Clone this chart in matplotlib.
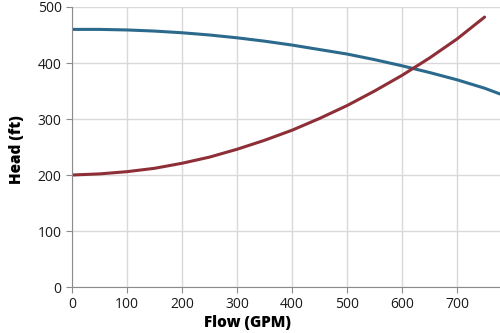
import matplotlib
matplotlib.use("Agg")
import matplotlib.pyplot as plt

flow = [0, 50, 100, 150, 200, 250, 300, 350, 400, 450, 500, 550, 600, 650, 700, 750, 780]
pump_head = [460, 460, 459, 457, 454, 450, 445, 439, 432, 424, 416, 406, 395, 383, 370, 355, 344]
sys_flow = [0, 50, 100, 150, 200, 250, 300, 350, 400, 450, 500, 550, 600, 650, 700, 750]
sys_head = [200, 202, 206, 212, 221, 232, 246, 262, 280, 301, 324, 350, 378, 409, 443, 482]
xticks = [0, 100, 200, 300, 400, 500, 600, 700]
yticks = [0, 100, 200, 300, 400, 500]

plt.rcParams['font.family'] = ['Open Sans', 'DejaVu Sans']
fig = plt.figure(figsize=(5, 3.33), dpi=100)
ax = fig.add_axes([0.144, 0.138, 0.856, 0.841])
ax.plot(flow, pump_head, color='#2b6a8c', lw=2.2, solid_capstyle='round')
ax.plot(sys_flow, sys_head, color='#8e2f37', lw=2.2, solid_capstyle='round')
ax.set_xlim(0, 778)
ax.set_ylim(0, 500)
ax.set_xticks(xticks)
ax.set_yticks(yticks)
ax.grid(True, color='#d9d9d9', lw=1)
ax.set_axisbelow(True)
for s in ['top', 'right']:
    ax.spines[s].set_visible(False)
for s in ['left', 'bottom']:
    ax.spines[s].set_color('#8c8c8c')
ax.tick_params(colors='#8c8c8c', labelcolor='#1a1a1a', labelsize=10, length=4)
fig.text(0.494, 0.030, 'Flow (GPM)', fontsize=11, fontweight='heavy', ha='center', va='center')
fig.text(0.034, 0.55, 'Head (ft)', fontsize=11, fontweight='heavy', ha='center', va='center', rotation=90)
fig.savefig('out.png', dpi=100)
